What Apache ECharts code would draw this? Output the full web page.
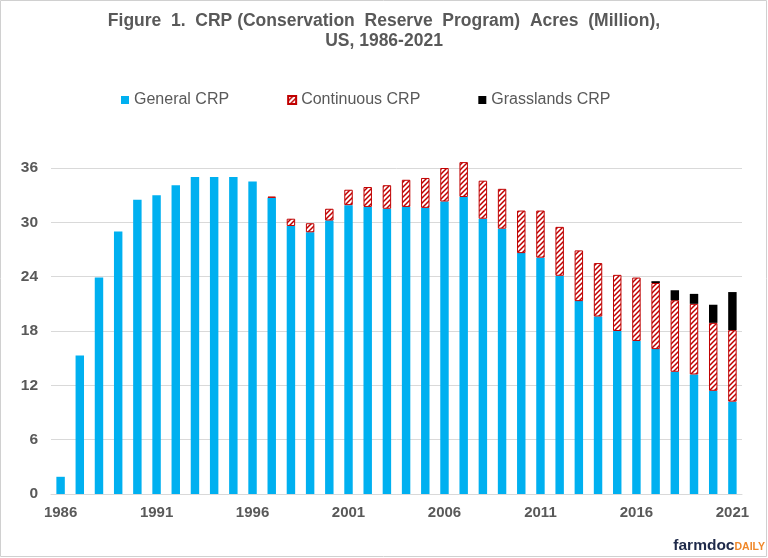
<!DOCTYPE html>
<html lang="en">
<head>
    <meta charset="UTF-8">
    <title>CRP Acres</title>
    <script src="https://cdn.jsdelivr.net/npm/echarts@6/dist/echarts.min.js"></script>
</head>
<body style="margin:0">
<div id="crpChart" style="width: 768px;height: 558px"></div>

<script>

    var years = ['1986', '1987', '1988', '1989', '1990', '1991', '1992', '1993', '1994', '1995',
        '1996', '1997', '1998', '1999', '2000', '2001', '2002', '2003', '2004', '2005',
        '2006', '2007', '2008', '2009', '2010', '2011', '2012', '2013', '2014', '2015',
        '2016', '2017', '2018', '2019', '2020', '2021'];
    // million acres
    var general = [1.9, 15.3, 23.9, 29.0, 32.5, 33.0, 34.1, 35.0, 35.0, 35.0,
        34.5, 32.7, 29.6, 28.9, 30.2, 31.9, 31.7, 31.5, 31.7, 31.6,
        32.3, 32.8, 30.4, 29.3, 26.6, 26.1, 24.1, 21.3, 19.6, 18.0,
        16.9, 16.0, 13.5, 13.2, 11.4, 10.2];
    var continuous = [null, null, null, null, null, null, null, null, null, null,
        null, 0.15, 0.8, 1.0, 1.3, 1.7, 2.2, 2.6, 3.0, 3.3,
        3.7, 3.85, 4.2, 4.4, 4.7, 5.2, 5.4, 5.6, 5.9, 6.2,
        7.0, 7.3, 7.9, 7.8, 7.5, 7.9];
    var grasslands = [null, null, null, null, null, null, null, null, null, null,
        null, null, null, null, null, null, null, null, null, null,
        null, null, null, null, null, null, null, null, null, null,
        null, 0.2, 1.1, 1.1, 2.0, 4.2];
    var yTicks = [0, 6, 12, 18, 24, 30, 36];

    var gray = '#595959';
    var font = '"Liberation Sans", Arial, sans-serif';

    function stripes() {
        var size = 5;
        var c = document.createElement('canvas');
        c.width = size;
        c.height = size;
        var ctx = c.getContext('2d');
        ctx.fillStyle = '#ffffff';
        ctx.fillRect(0, 0, size, size);
        ctx.strokeStyle = '#C00000';
        ctx.lineWidth = 1.5;
        ctx.beginPath();
        ctx.moveTo(-1, size + 1);
        ctx.lineTo(size + 1, -1);
        ctx.moveTo(-1, 1);
        ctx.lineTo(1, -1);
        ctx.moveTo(size - 1, size + 1);
        ctx.lineTo(size + 1, size - 1);
        ctx.stroke();
        return c;
    }

    var chartDom = document.getElementById('crpChart');
    var myChart = echarts.init(chartDom);
    var option;

    option = {
        animation: false,
        backgroundColor: '#ffffff',
        title: {
            text: 'Figure  1.  CRP (Conservation  Reserve  Program)  Acres  (Million),\nUS, 1986-2021',
            left: 'center',
            top: 6,
            textStyle: {
                fontFamily: font,
                fontSize: 17.5,
                fontWeight: 'bold',
                color: gray,
                lineHeight: 20
            }
        },
        legend: {
            left: 116,
            top: 87,
            itemWidth: 8,
            itemHeight: 8,
            itemGap: 58,
            icon: 'rect',
            textStyle: {
                fontFamily: font,
                fontSize: 16,
                color: gray
            },
            data: ['General CRP', 'Continuous CRP', 'Grasslands CRP']
        },
        grid: {
            left: 51,
            right: 26,
            top: 168,
            bottom: 64,
            containLabel: false
        },
        xAxis: {
            type: 'category',
            data: years,
            axisLine: {lineStyle: {color: '#d9d9d9'}},
            axisTick: {show: false},
            axisLabel: {
                interval: 4,
                margin: 11,
                fontFamily: font,
                fontSize: 15,
                fontWeight: 'bold',
                color: gray
            }
        },
        yAxis: {
            type: 'value',
            min: yTicks[0],
            max: yTicks[yTicks.length - 1],
            interval: 6,
            axisLine: {show: false},
            axisTick: {show: false},
            splitLine: {lineStyle: {color: '#d9d9d9'}},
            axisLabel: {
                margin: 13,
                fontFamily: font,
                fontSize: 15.5,
                fontWeight: 'bold',
                color: gray
            }
        },
        series: [
            {
                name: 'General CRP',
                type: 'bar',
                stack: 'crp',
                clip: false,
                barWidth: '44%',
                itemStyle: {color: '#00B0F0'},
                data: general
            },
            {
                name: 'Continuous CRP',
                type: 'bar',
                stack: 'crp',
                clip: false,
                itemStyle: {
                    color: {image: stripes(), repeat: 'repeat'},
                    borderColor: '#C00000',
                    borderWidth: 1
                },
                data: continuous
            },
            {
                name: 'Grasslands CRP',
                type: 'bar',
                stack: 'crp',
                clip: false,
                itemStyle: {color: '#000000'},
                data: grasslands
            }
        ],
        graphic: [
            {
                type: 'rect',
                shape: {x: 0.5, y: 0.5, width: 766, height: 556},
                style: {fill: null, stroke: '#d0d0d0', lineWidth: 1},
                silent: true
            },
            {
                type: 'text',
                right: 3,
                bottom: 4,
                style: {
                    text: '{a|farmdoc}{b|DAILY}',
                    rich: {
                        a: {fontFamily: font, fontSize: 15.5, fontWeight: 'bold', fill: '#1f2a4a'},
                        b: {fontFamily: font, fontSize: 10.5, fontWeight: 'bold', fill: '#f0882a', padding: [3, 0, 0, 0]}
                    }
                }
            }
        ]
    };

    option && myChart.setOption(option);
</script>
</body>
</html>
